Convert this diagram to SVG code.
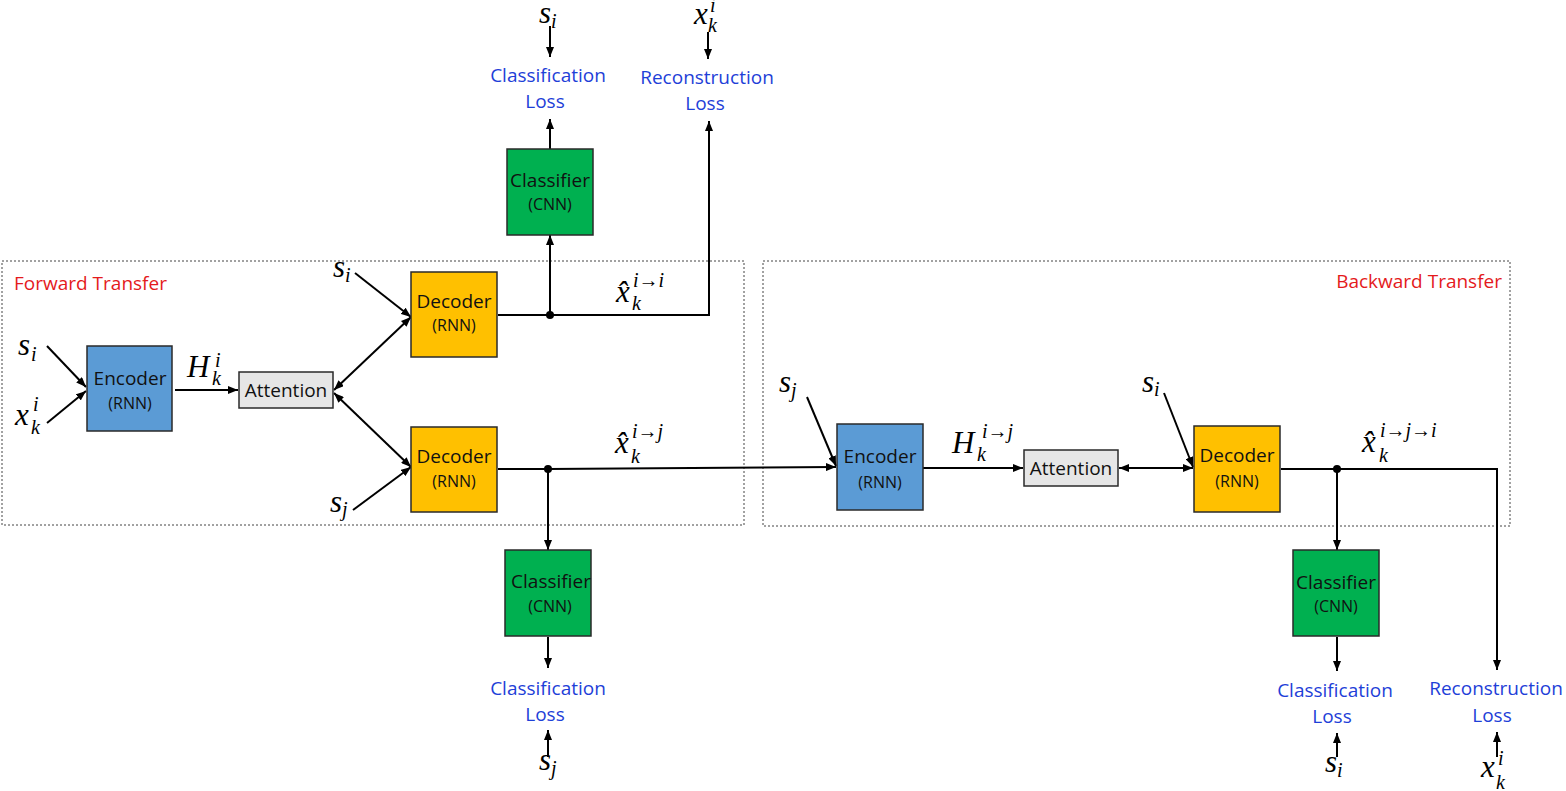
<svg xmlns="http://www.w3.org/2000/svg" width="1566" height="791" viewBox="0 0 1566 791">
<style>
.bg{fill:#fff}
.frame{fill:none;stroke:#444;stroke-width:1;stroke-dasharray:2,2}
.enc{fill:#5B9BD5;stroke:#2a2a2a;stroke-width:1.5}
.dec{fill:#FFC000;stroke:#2a2a2a;stroke-width:1.5}
.cls{fill:#00B050;stroke:#2a2a2a;stroke-width:1.5}
.att{fill:#E6E6E6;stroke:#2a2a2a;stroke-width:1.5}
.t{font-family:"Open Sans","Liberation Sans",sans-serif;font-size:19px;fill:#111;text-anchor:middle}
.t2{font-family:"Open Sans","Liberation Sans",sans-serif;font-size:16px;fill:#111;text-anchor:middle}
.loss{font-family:"Open Sans","Liberation Sans",sans-serif;font-size:19px;fill:#1E40D8;text-anchor:middle}
.red{font-family:"Open Sans","Liberation Sans",sans-serif;font-size:19px;fill:#E41A1C}
.m{font-family:"Liberation Serif","DejaVu Serif",serif;font-style:italic;font-size:31px;fill:#000}
.ms{font-family:"Liberation Serif","DejaVu Serif",serif;font-style:italic;font-size:20px;fill:#000}
.c{fill:none;stroke:#000;stroke-width:2}
</style>
<defs>
<marker id="ah" viewBox="0 0 10 8" refX="10" refY="4" markerWidth="10" markerHeight="8" markerUnits="userSpaceOnUse" orient="auto-start-reverse">
<path d="M0,0 L10,4 L0,8 z" fill="#000"/>
</marker>
</defs>
<rect class="bg" x="0" y="0" width="1566" height="791"/>

<g id="forward-frame">
<rect class="frame" x="2" y="261" width="742" height="264"/>
<text class="red" x="14" y="290">Forward Transfer</text>
</g>
<g id="backward-frame">
<rect class="frame" x="763" y="261" width="747" height="265"/>
<text class="red" x="1502" y="288" text-anchor="end">Backward Transfer</text>
</g>

<g id="connectors">
<line class="c" x1="47" y1="346" x2="86" y2="387" marker-end="url(#ah)"/>
<line class="c" x1="47" y1="423" x2="86" y2="391" marker-end="url(#ah)"/>
<line class="c" x1="175" y1="390" x2="238" y2="390" marker-end="url(#ah)"/>
<line class="c" x1="334" y1="390" x2="411" y2="317" marker-start="url(#ah)" marker-end="url(#ah)"/>
<line class="c" x1="334" y1="393" x2="411" y2="467" marker-start="url(#ah)" marker-end="url(#ah)"/>
<line class="c" x1="355" y1="273" x2="411" y2="317" marker-end="url(#ah)"/>
<line class="c" x1="353" y1="510" x2="411" y2="467" marker-end="url(#ah)"/>
<polyline class="c" points="498,315 709,315 709,121" marker-end="url(#ah)"/>
<line class="c" x1="550" y1="315" x2="550" y2="235" marker-end="url(#ah)"/>
<circle cx="550" cy="315" r="4" fill="#000"/>
<line class="c" x1="550" y1="149" x2="550" y2="119" marker-end="url(#ah)"/>
<line class="c" x1="550" y1="26" x2="550" y2="57" marker-end="url(#ah)"/>
<line class="c" x1="708" y1="32" x2="708" y2="59" marker-end="url(#ah)"/>
<polyline class="c" points="498,469 548,469 836,467" marker-end="url(#ah)"/>
<line class="c" x1="548" y1="469" x2="548" y2="550" marker-end="url(#ah)"/>
<circle cx="548" cy="469" r="4" fill="#000"/>
<line class="c" x1="548" y1="637" x2="548" y2="668" marker-end="url(#ah)"/>
<line class="c" x1="548" y1="757" x2="548" y2="730" marker-end="url(#ah)"/>
<line class="c" x1="807" y1="397" x2="836" y2="466" marker-end="url(#ah)"/>
<line class="c" x1="923" y1="468" x2="1023" y2="468" marker-end="url(#ah)"/>
<line class="c" x1="1119" y1="468" x2="1193" y2="468" marker-start="url(#ah)" marker-end="url(#ah)"/>
<line class="c" x1="1164" y1="393" x2="1193" y2="467" marker-end="url(#ah)"/>
<polyline class="c" points="1281,469 1497,469 1497,670" marker-end="url(#ah)"/>
<line class="c" x1="1337" y1="469" x2="1337" y2="550" marker-end="url(#ah)"/>
<circle cx="1337" cy="469" r="4" fill="#000"/>
<line class="c" x1="1337" y1="637" x2="1337" y2="671" marker-end="url(#ah)"/>
<line class="c" x1="1337" y1="757" x2="1337" y2="733" marker-end="url(#ah)"/>
<line class="c" x1="1497" y1="757" x2="1497" y2="732" marker-end="url(#ah)"/>
</g>

<g id="encoder1">
<rect class="enc" x="87" y="346" width="85" height="85"/>
<text class="t" x="130" y="385">Encoder</text>
<text class="t2" x="130" y="409">(RNN)</text>
</g>
<g id="attention1">
<rect class="att" x="239" y="372" width="94" height="36"/>
<text class="t" x="286" y="397">Attention</text>
</g>
<g id="decoder1">
<rect class="dec" x="411" y="272" width="86" height="85"/>
<text class="t" x="454" y="308">Decoder</text>
<text class="t2" x="454" y="331">(RNN)</text>
</g>
<g id="decoder2">
<rect class="dec" x="411" y="427" width="86" height="85"/>
<text class="t" x="454" y="463">Decoder</text>
<text class="t2" x="454" y="487">(RNN)</text>
</g>
<g id="classifier1">
<rect class="cls" x="507" y="149" width="86" height="86"/>
<text class="t" x="550" y="187">Classifier</text>
<text class="t2" x="550" y="210">(CNN)</text>
</g>
<g id="classifier2">
<rect class="cls" x="505" y="550" width="86" height="86"/>
<text class="t" x="551" y="588">Classifier</text>
<text class="t2" x="550" y="612">(CNN)</text>
</g>
<g id="encoder2">
<rect class="enc" x="837" y="424" width="86" height="86"/>
<text class="t" x="880" y="463">Encoder</text>
<text class="t2" x="880" y="488">(RNN)</text>
</g>
<g id="attention2">
<rect class="att" x="1024" y="450" width="94" height="36"/>
<text class="t" x="1071" y="475">Attention</text>
</g>
<g id="decoder3">
<rect class="dec" x="1194" y="426" width="86" height="86"/>
<text class="t" x="1237" y="462">Decoder</text>
<text class="t2" x="1237" y="487">(RNN)</text>
</g>
<g id="classifier3">
<rect class="cls" x="1293" y="550" width="86" height="86"/>
<text class="t" x="1336" y="589">Classifier</text>
<text class="t2" x="1336" y="612">(CNN)</text>
</g>

<g id="loss-top-cls">
<text class="loss" x="548" y="82">Classification</text>
<text class="loss" x="545" y="108">Loss</text>
</g>
<g id="loss-top-rec">
<text class="loss" x="707" y="84">Reconstruction</text>
<text class="loss" x="705" y="110">Loss</text>
</g>
<g id="loss-bot-cls">
<text class="loss" x="548" y="695">Classification</text>
<text class="loss" x="545" y="721">Loss</text>
</g>
<g id="loss-br-cls">
<text class="loss" x="1335" y="697">Classification</text>
<text class="loss" x="1332" y="723">Loss</text>
</g>
<g id="loss-br-rec">
<text class="loss" x="1496" y="695">Reconstruction</text>
<text class="loss" x="1492" y="722">Loss</text>
</g>

<g id="labels">
<text class="m" x="18" y="355">s</text><text class="ms" x="31" y="361">i</text>
<text class="m" x="15" y="425">x</text><text class="ms" x="33" y="411">i</text><text class="ms" x="31" y="434">k</text>
<text class="m" x="187" y="377">H</text><text class="ms" x="215" y="367">i</text><text class="ms" x="212" y="385">k</text>
<text class="m" x="333" y="277">s</text><text class="ms" x="345" y="282">i</text>
<text class="m" x="330" y="512">s</text><text class="ms" x="342" y="516">j</text>
<text class="m" x="539" y="23">s</text><text class="ms" x="551" y="28">i</text>
<text class="m" x="694" y="24">x</text><text class="ms" x="710" y="12">i</text><text class="ms" x="708" y="32">k</text>
<text class="m" x="616" y="302">x̂</text><text class="ms" x="633" y="287">i→i</text><text class="ms" x="632" y="310">k</text>
<text class="m" x="615" y="453">x̂</text><text class="ms" x="632" y="438">i→j</text><text class="ms" x="631" y="463">k</text>
<text class="m" x="539" y="770">s</text><text class="ms" x="551" y="775">j</text>
<text class="m" x="779" y="392">s</text><text class="ms" x="791" y="397">j</text>
<text class="m" x="952" y="453">H</text><text class="ms" x="982" y="438">i→j</text><text class="ms" x="977" y="461">k</text>
<text class="m" x="1142" y="392">s</text><text class="ms" x="1154" y="396">i</text>
<text class="m" x="1362" y="452">x̂</text><text class="ms" x="1380" y="437">i→j→i</text><text class="ms" x="1379" y="462">k</text>
<text class="m" x="1325" y="772">s</text><text class="ms" x="1337" y="777">i</text>
<text class="m" x="1481" y="777">x</text><text class="ms" x="1498" y="765">i</text><text class="ms" x="1496" y="789">k</text>
</g>
</svg>
